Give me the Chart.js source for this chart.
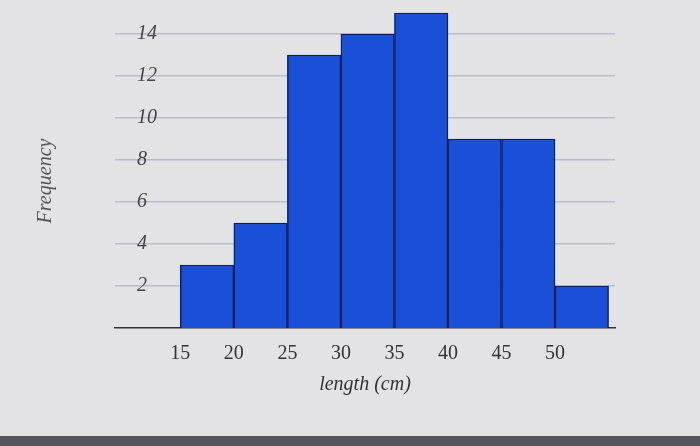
<!DOCTYPE html>
<html>
<head>
<script src="https://cdn.jsdelivr.net/npm/chart.js@4"></script>
<style>
  body { margin: 0; background: #e3e3e6; }
  #wrap { position: relative; width: 700px; height: 446px; }
  #strip { position: absolute; left: 0; bottom: 0; width: 700px; height: 10px; background: #55565c; }
</style>
</head>
<body>
<div id="wrap">
  <canvas id="histChart" width="700" height="436"></canvas>
  <div id="strip"></div>
</div>
<script>
// bin centres and counts
const binCenters = [17.5, 22.5, 27.5, 32.5, 37.5, 42.5, 47.5, 52.5];
const counts = [3, 5, 13, 14, 15, 9, 9, 2];
const xTicks = [15, 20, 25, 30, 35, 40, 45, 50];
const yTicks = [2, 4, 6, 8, 10, 12, 14];

const serif = 'Liberation Serif';
const ctx = document.getElementById('histChart').getContext('2d');

new Chart(ctx, {
  type: 'bar',
  data: {
    datasets: [{
      data: binCenters.map((x, i) => ({ x: x, y: counts[i] })),
      backgroundColor: '#1a4fd8',
      borderColor: '#0d1f66',
      borderWidth: 1.5,
      barPercentage: 1,
      categoryPercentage: 1,
      clip: false
    }]
  },
  options: {
    responsive: false,
    animation: false,
    layout: { padding: { left: 30, right: 85, top: 0, bottom: 35 } },
    plugins: { legend: { display: false }, tooltip: { enabled: false } },
    scales: {
      x: {
        type: 'linear',
        offset: false,
        min: 8.9,
        max: 55.6,
        afterBuildTicks: s => { s.ticks = xTicks.map(v => ({ value: v })); },
        afterFit: s => { s.height = 73; },
        grid: { display: false, drawTicks: false },
        border: { color: '#333', width: 1.5 },
        ticks: { padding: 14, color: '#333', font: { family: serif, size: 20 } },
        title: { display: true, text: 'length (cm)', color: '#333', padding: { top: 12 },
                 font: { family: serif, size: 20, style: 'italic' } }
      },
      y: {
        min: 0,
        max: 14,
        afterBuildTicks: s => { s.ticks = yTicks.map(v => ({ value: v })); },
        afterFit: s => { s.width = 85; },
        grid: { color: '#b9bccb', lineWidth: 1.5, drawTicks: false },
        border: { display: false },
        ticks: { mirror: true, padding: 22, color: '#444',
                 font: { family: serif, size: 20, style: 'italic' } },
        title: { display: true, text: 'Frequency', color: '#555', padding: { bottom: 50 },
                 font: { family: serif, size: 20, style: 'italic' } }
      }
    }
  }
});
</script>
</body>
</html>
